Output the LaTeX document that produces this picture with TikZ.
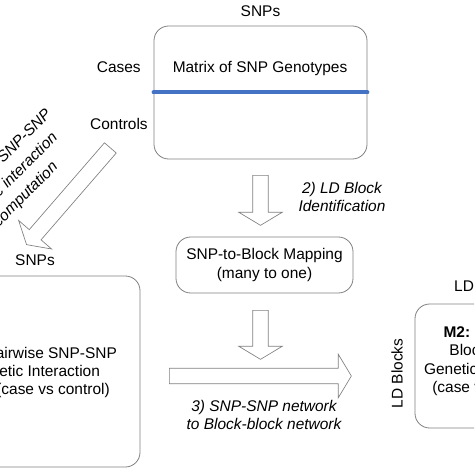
\documentclass[tikz,border=0pt]{standalone}
\usepackage{fontspec}
\setmainfont{Liberation Sans}
\usetikzlibrary{shapes.arrows}

\definecolor{splitblue}{RGB}{68,114,196}
\tikzstyle{box} = [draw=black!50, line width=0.6pt, rounded corners=11pt]
\tikzstyle{txt} = [align=center]
\tikzstyle{stepnote} = [align=center, font=\fontsize{11.6}{13.7}\selectfont\itshape]
\tikzstyle{bigarrow} = [single arrow, draw=black!50, fill=white, line width=0.5pt,
    inner xsep=0pt, inner ysep=5.6pt, single arrow head extend=10.5pt,
    single arrow tip angle=118]

\begin{document}
\begin{tikzpicture}[x=0.75pt, y=-0.75pt, inner sep=0pt,
    font=\fontsize{11.6}{13.7}\selectfont]
\useasboundingbox (0,0) rectangle (474,474);
\clip (0,0) rectangle (474,474);

\node[box, minimum width=159.75pt, minimum height=99.75pt] (matrix) at (260.5,92.5) {};
\draw[splitblue, line width=3pt, line cap=round] (matrix.west) -- (matrix.east);
\node[anchor=base] (snpstop) at (260.5,16.5) {SNPs};
\node[anchor=base] (matrixtext) at (260,73) {Matrix of SNP Genotypes};
\node[anchor=base east] (cases) at (141,73) {Cases};
\node[anchor=base east] (controls) at (148,129.3) {Controls};

\node[bigarrow, minimum height=37.5pt, rotate=-90] (ldarrow) at (260.5,198) {};
\node[stepnote] (ldnote) at (342,197) {2) LD Block\\Identification};

\node[box, txt, minimum width=132.75pt, minimum height=42pt] (mapping) at (264.5,265)
    {SNP-to-Block Mapping\\(many to one)};

\node[bigarrow, minimum height=36.75pt, rotate=-90] (maparrow) at (260.5,332.5) {};
\node[bigarrow, minimum height=136.5pt] (netarrow) at (258,376) {};
\node[stepnote] (netnote) at (264,415) {3) SNP-SNP network\\to Block-block network};

\node[bigarrow, minimum height=96pt, rotate=229.1] (pairarrow) at (70,194.5) {};
\node[stepnote, rotate=45, font=\fontsize{11.6}{15.75}\selectfont\itshape] (pairnote) at (11,180)
    {1) Pairwise SNP-SNP\\genetic interaction\\computation};

\node[anchor=base] (snpsleft) at (35,265) {SNPs};
\node[box, minimum width=157.5pt, minimum height=143.25pt] (mone) at (35,371.5) {};
\node[txt] (monetext) at (35,372.6)
    {\textbf{M1:} Pairwise SNP-SNP\\Genetic Interaction\\\hspace*{27pt}(case vs control)};

\node[anchor=base] (ldtop) at (489,291.7) {LD Blocks};
\node[anchor=base, rotate=90] (ldside) at (402.7,373.5) {LD Blocks};
\node[box, minimum width=111pt, minimum height=93pt] (mtwo) at (489,366) {};
\node[txt] (mtwotext) at (489,361)
    {\textbf{M2:} Pairwise\\Block-block\\Genetic Interaction\\(case vs control)};
\end{tikzpicture}
\end{document}
